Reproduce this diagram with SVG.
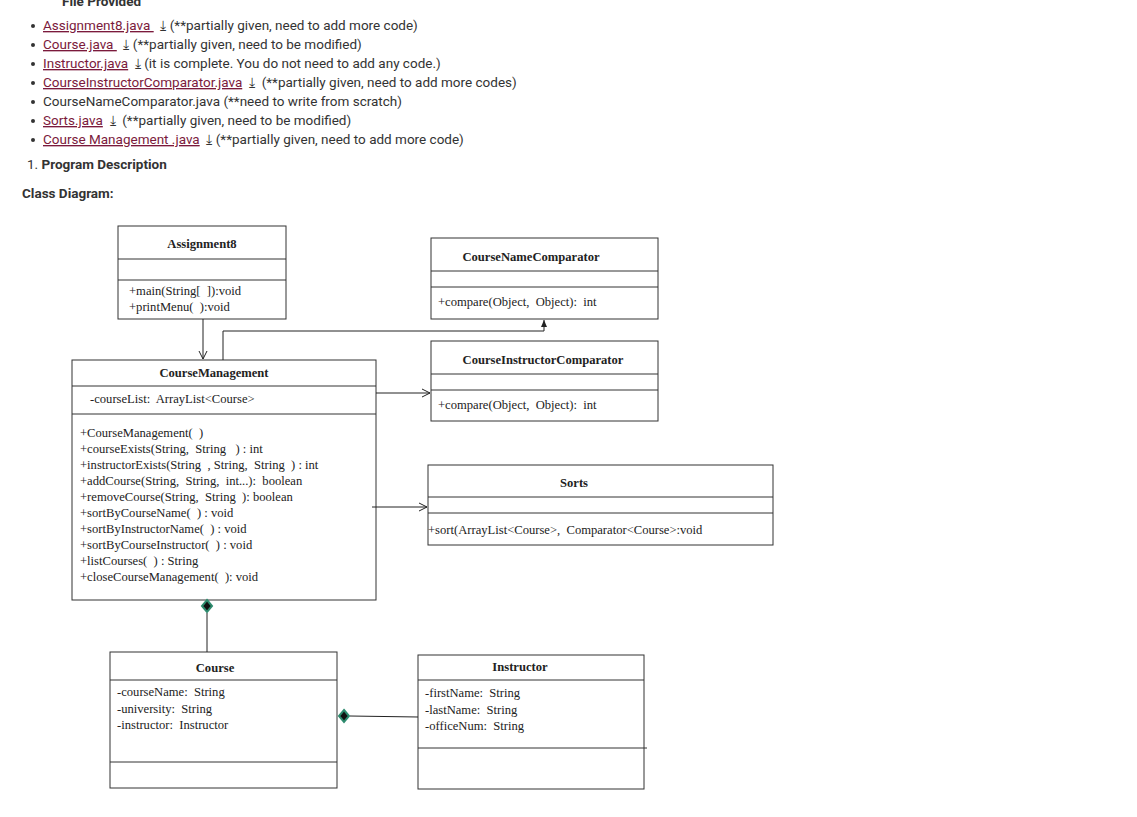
<svg xmlns="http://www.w3.org/2000/svg" width="1137" height="817" viewBox="0 0 1137 817">
<style>
.t{font-family:Roboto,"Liberation Sans",sans-serif;font-size:13.5px;fill:#333;white-space:pre}
.a{fill:#7b1a3c;text-decoration:underline}
.b{font-weight:bold}
.s{font-family:"Liberation Serif",serif;font-size:12.6px;fill:#222;white-space:pre}
.h{font-weight:bold;text-anchor:middle}
.box{fill:#fff;stroke:#333;stroke-width:1}
.ln{stroke:#333;stroke-width:1;fill:none}
.c{stroke:#222;stroke-width:1;fill:none}
</style>
<defs>
<marker id="open" markerWidth="10" markerHeight="10" refX="9" refY="5" orient="auto" markerUnits="userSpaceOnUse"><path d="M1,1 L9,5 L1,9" fill="none" stroke="#222"/></marker>
<marker id="fill" markerWidth="8" markerHeight="8" refX="7" refY="4" orient="auto" markerUnits="userSpaceOnUse"><path d="M0,1 L7,4 L0,7 Z" fill="#222"/></marker>
<g id="dia"><path d="M0,-6 L5,0 L0,6 L-5,0 Z" fill="#111" stroke="#2e8b6e" stroke-width="2"/></g>
</defs>
<rect width="1137" height="817" fill="#fff"/>
<text class="t b" x="62" y="6">File Provided</text>
<g fill="#333"><circle cx="33" cy="26" r="2"/><circle cx="33" cy="45" r="2"/><circle cx="33" cy="64" r="2"/><circle cx="33" cy="83" r="2"/><circle cx="33" cy="102" r="2"/><circle cx="33" cy="121" r="2"/><circle cx="33" cy="140" r="2"/></g>
<text class="t" x="43" y="30"><tspan class="a">Assignment8.java </tspan>  ⤓ (**partially given, need to add more code)</text>
<text class="t" x="43" y="49"><tspan class="a">Course.java </tspan>  ⤓ (**partially given, need to be modified)</text>
<text class="t" x="43" y="68"><tspan class="a">Instructor.java</tspan>  ⤓ (it is complete. You do not need to add any code.)</text>
<text class="t" x="43" y="87"><tspan class="a">CourseInstructorComparator.java</tspan>  ⤓  (**partially given, need to add more codes)</text>
<text class="t" x="43" y="106">CourseNameComparator.java (**need to write from scratch)</text>
<text class="t" x="43" y="125"><tspan class="a">Sorts.java</tspan>  ⤓  (**partially given, need to be modified)</text>
<text class="t" x="43" y="144"><tspan class="a">Course Management .java</tspan>  ⤓ (**partially given, need to add more code)</text>
<text class="t" x="27" y="169">1. <tspan class="b">Program Description</tspan></text>
<text class="t b" x="22" y="198">Class Diagram:</text>

<g id="assignment8"><rect class="box" x="118" y="226" width="168" height="93"/><line class="ln" x1="118" y1="259" x2="286" y2="259"/><line class="ln" x1="118" y1="280" x2="286" y2="280"/>
<text class="s h" x="202" y="248">Assignment8</text><text class="s" x="129" y="295">+main(String[  ]):void</text><text class="s" x="129" y="311">+printMenu(  ):void</text></g>

<g id="coursenamecomparator"><rect class="box" x="431" y="238" width="227" height="81"/><line class="ln" x1="431" y1="271" x2="658" y2="271"/><line class="ln" x1="431" y1="287" x2="658" y2="287"/>
<text class="s h" x="531" y="261">CourseNameComparator</text><text class="s" x="438" y="306">+compare(Object,  Object):  int</text></g>

<g id="courseinstructorcomparator"><rect class="box" x="431" y="341" width="227" height="80"/><line class="ln" x1="431" y1="374" x2="658" y2="374"/><line class="ln" x1="431" y1="390" x2="658" y2="390"/>
<text class="s h" x="543" y="364">CourseInstructorComparator</text><text class="s" x="438" y="409">+compare(Object,  Object):  int</text></g>

<g id="coursemanagement"><rect class="box" x="72" y="360" width="304" height="240"/><line class="ln" x1="72" y1="386" x2="376" y2="386"/><line class="ln" x1="72" y1="414" x2="376" y2="414"/>
<text class="s h" x="214" y="377">CourseManagement</text><text class="s" x="90" y="403">-courseList:  ArrayList&lt;Course&gt;</text>
<text class="s" x="80" y="437">+CourseManagement(  )</text>
<text class="s" x="80" y="453">+courseExists(String,  String   ) : int</text>
<text class="s" x="80" y="469">+instructorExists(String  , String,  String  ) : int</text>
<text class="s" x="80" y="485">+addCourse(String,  String,  int...):  boolean</text>
<text class="s" x="80" y="501">+removeCourse(String,  String  ): boolean</text>
<text class="s" x="80" y="517">+sortByCourseName(  ) : void</text>
<text class="s" x="80" y="533">+sortByInstructorName(  ) : void</text>
<text class="s" x="80" y="549">+sortByCourseInstructor(  ) : void</text>
<text class="s" x="80" y="565">+listCourses(  ) : String</text>
<text class="s" x="80" y="581">+closeCourseManagement(  ): void</text></g>

<g id="sorts"><rect class="box" x="428" y="465" width="345" height="80"/><line class="ln" x1="428" y1="497" x2="773" y2="497"/><line class="ln" x1="428" y1="513" x2="773" y2="513"/>
<text class="s h" x="574" y="487">Sorts</text><text class="s" x="428" y="534">+sort(ArrayList&lt;Course&gt;,  Comparator&lt;Course&gt;:void</text></g>

<g id="course"><rect class="box" x="110" y="652" width="227" height="136"/><line class="ln" x1="110" y1="680" x2="337" y2="680"/><line class="ln" x1="110" y1="762" x2="337" y2="762"/>
<text class="s h" x="215" y="672">Course</text><text class="s" x="117" y="696">-courseName:  String</text><text class="s" x="117" y="713">-university:  String</text><text class="s" x="117" y="729">-instructor:  Instructor</text></g>

<g id="instructor"><rect class="box" x="418" y="655" width="226" height="134"/><line class="ln" x1="418" y1="680" x2="644" y2="680"/><line class="ln" x1="418" y1="748" x2="647" y2="748"/>
<text class="s h" x="520" y="671">Instructor</text><text class="s" x="425" y="697">-firstName:  String</text><text class="s" x="425" y="714">-lastName:  String</text><text class="s" x="425" y="730">-officeNum:  String</text></g>

<g id="connectors">
<path class="c" d="M203,319 L203,359" marker-end="url(#open)"/>
<path class="c" d="M223,360 L223,331 L544,331 L544,320" marker-end="url(#fill)"/>
<path class="c" d="M376,393 L430,393" marker-end="url(#open)"/>
<path class="c" d="M372,507 L427,507" marker-end="url(#open)"/>
<path class="c" d="M207,613 L207,652"/>
<use href="#dia" x="207" y="606"/>
<path class="c" d="M350,716 L418,717"/>
<use href="#dia" x="344" y="716"/>
</g>
</svg>
